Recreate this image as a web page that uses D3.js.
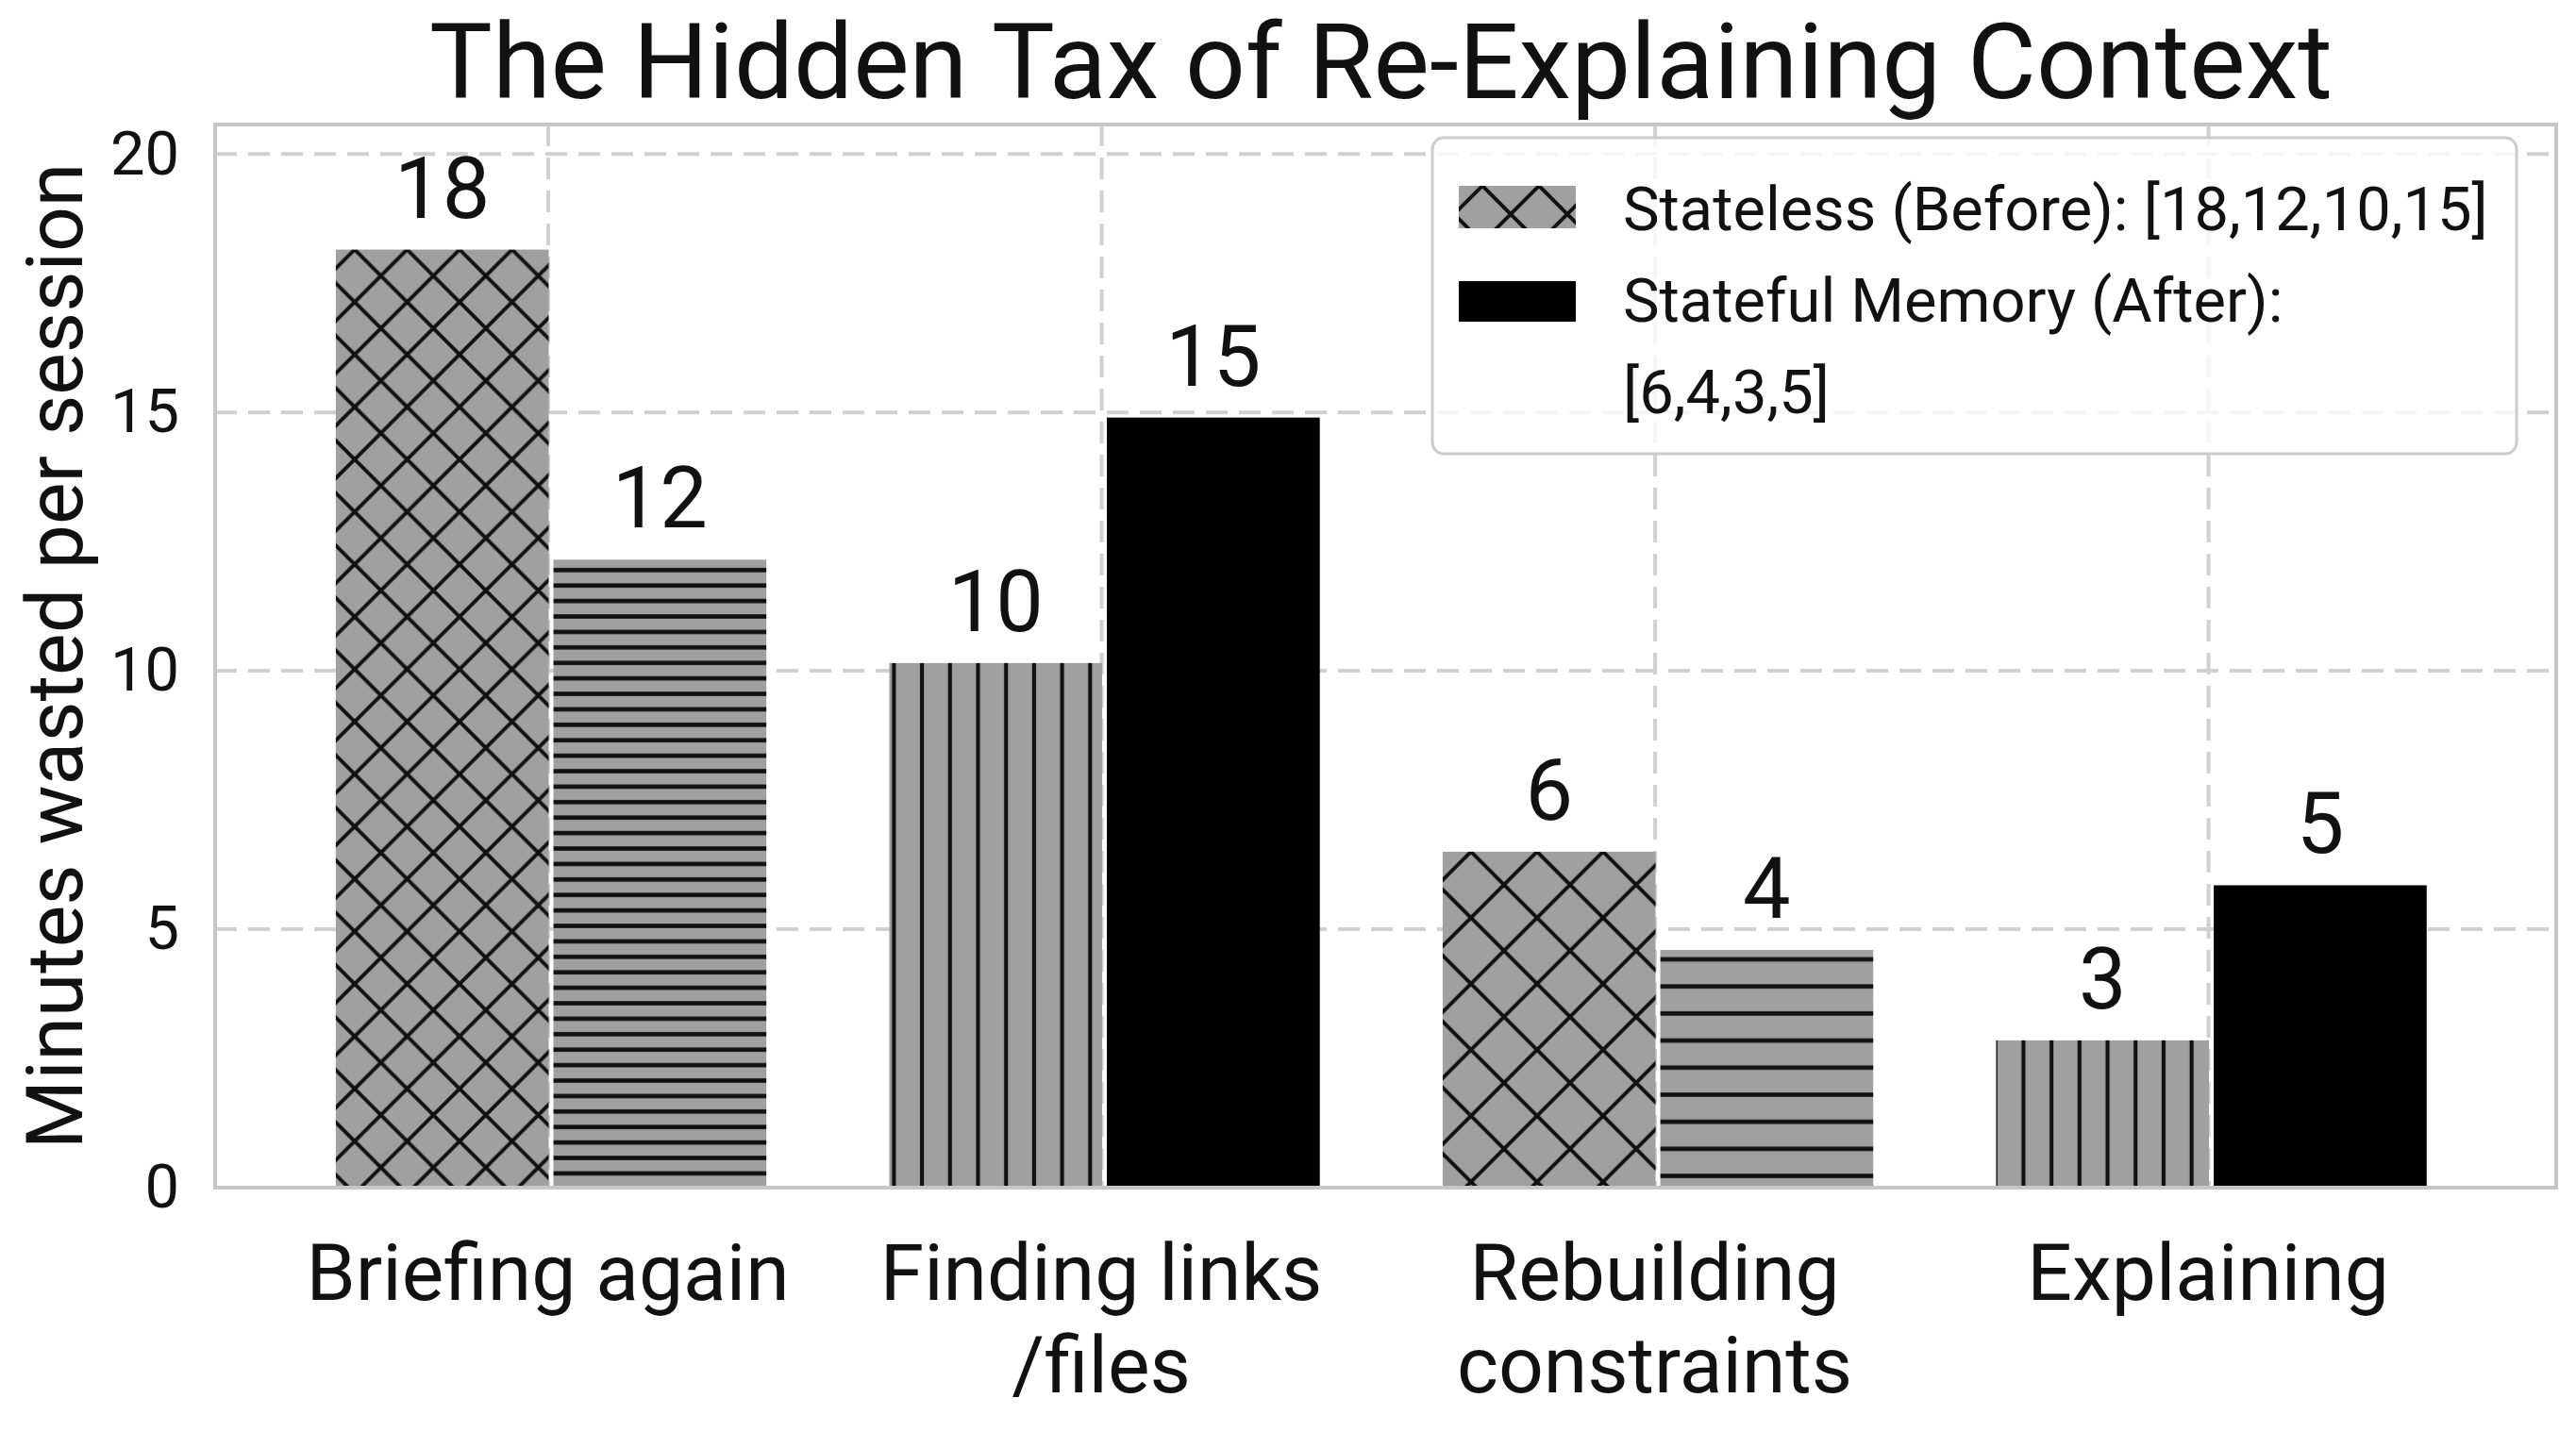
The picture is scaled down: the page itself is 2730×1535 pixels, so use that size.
<!DOCTYPE html>
<html>
<head>
<meta charset="utf-8">
<script src="https://cdn.jsdelivr.net/npm/d3@7"></script>
<style>
  body { margin: 0; background: #fff; }
  svg { display: block; }
  text { font-family: Roboto, "Noto Sans", sans-serif; fill: #111; }
</style>
</head>
<body>
<svg id="chart" width="2730" height="1535"></svg>
<script>
// chart data
const title = "The Hidden Tax of Re-Explaining Context"
const yTitle = "Minutes wasted per session"
const categories = ["Briefing again", "Finding links\n/files", "Rebuilding\nconstraints", "Explaining"]
// the bars are drawn in pairs, two per category, in this order
const barLabels = [18, 12, 10, 15, 6, 4, 3, 5]
// heights as drawn in the picture (slightly off the printed labels)
const barHeights = [18.15, 12.15, 10.15, 14.9, 6.5, 4.6, 2.85, 5.85]
const yTicks = [0, 5, 10, 15, 20]
const legendLines = [["Stateless (Before): [18,12,10,15]"], ["Stateful Memory (After):", "[6,4,3,5]"]]

// styling
const GRAY = "#a0a0a0", INK = "#111", GRID = "#d0d0d0", SPINE = "#c6c6c6"
const hatchKind = ["cross", "horiz", "vert", "solid"]
const hatchGap = [55.6, 16.4, 29.7, 0, 70, 28.7, 29.7, 0]
const hatchPhase = [20, 11, 5, 0, 30, 10, 29, 0]
const hatchWidth = { cross: 4, horiz: 4.6, vert: 4.2 }

const svg = d3.select("#chart")
const plot = { left: 228, right: 2709, top: 132, bottom: 1259 }

const xScale = d3.scaleLinear().domain([-0.607, 3.623]).range([plot.left, plot.right])
const yScale = d3.scaleLinear().domain([0, 20.57]).range([plot.bottom, plot.top])

// patterns
const defs = svg.append("defs")
const addPattern = (id, kind, gap, px, py, lw) => {
    const p = defs.append("pattern").attr("id", id).attr("patternUnits", "userSpaceOnUse")
    if (kind == "cross") {
        p.attr("x", px).attr("y", py).attr("width", gap).attr("height", gap)
        p.append("rect").attr("width", gap).attr("height", gap).attr("fill", GRAY)
        let d = ""
        for (const k of [-1, 0, 1]) {
            d += `M${-gap},${-gap + k * gap}L${2 * gap},${2 * gap + k * gap}`
            d += `M${-gap},${gap + (k + 1) * gap}L${2 * gap},${(k + 1) * gap - 2 * gap}`
        }
        p.append("path").attr("d", d).attr("stroke", INK).attr("stroke-width", lw).attr("fill", "none")
    } else if (kind == "horiz") {
        p.attr("x", 0).attr("y", py - gap / 2).attr("width", 20).attr("height", gap)
        p.append("rect").attr("width", 20).attr("height", gap).attr("fill", GRAY)
        p.append("rect").attr("y", gap / 2 - lw / 2).attr("width", 20).attr("height", lw).attr("fill", INK)
    } else if (kind == "vert") {
        p.attr("x", px - gap / 2).attr("y", 0).attr("width", gap).attr("height", 20)
        p.append("rect").attr("width", gap).attr("height", 20).attr("fill", GRAY)
        p.append("rect").attr("x", gap / 2 - lw / 2).attr("width", lw).attr("height", 20).attr("fill", INK)
    }
}

// bars
const barW = 0.389, halfGap = 2.5
const bars = barHeights.map((h, i) => {
    const cat = Math.floor(i / 2), side = i % 2
    const c = xScale(cat)
    const x0 = side ? c + halfGap : xScale(cat - barW)
    const x1 = side ? xScale(cat + barW) : c - halfGap
    return { i, cat, side, h, label: barLabels[i], kind: hatchKind[i % 4], x0, x1, y: yScale(h) }
})
bars.forEach(b => {
    if (b.kind != "solid") addPattern("p" + b.i, b.kind, hatchGap[b.i], b.x0 + hatchPhase[b.i], b.y + (b.kind == "cross" ? 0 : hatchPhase[b.i]), hatchWidth[b.kind])
})

// grid
const grid = svg.append("g").attr("stroke", GRID).attr("stroke-width", 4).attr("stroke-dasharray", "23,12")
grid.selectAll("line.h").data(yTicks.filter(t => t > 0)).enter().append("line")
    .attr("x1", plot.left).attr("x2", plot.right)
    .attr("y1", d => yScale(d)).attr("y2", d => yScale(d))
grid.selectAll("line.v").data(categories).enter().append("line")
    .attr("x1", (d, i) => xScale(i) - 3).attr("x2", (d, i) => xScale(i) - 3)
    .attr("y1", plot.top).attr("y2", plot.bottom)

svg.append("g").selectAll("rect").data(bars).enter().append("rect")
    .attr("x", d => d.x0)
    .attr("y", d => d.y)
    .attr("width", d => d.x1 - d.x0)
    .attr("height", d => yScale(0) - d.y)
    .attr("fill", d => d.kind == "solid" ? "#000" : `url(#p${d.i})`)

// spines
svg.append("rect")
    .attr("x", plot.left).attr("y", plot.top)
    .attr("width", plot.right - plot.left).attr("height", plot.bottom - plot.top)
    .attr("fill", "none").attr("stroke", SPINE).attr("stroke-width", 4)

// value labels
svg.append("g").selectAll("text").data(bars).enter().append("text")
    .attr("x", d => (d.x0 + d.x1) / 2)
    .attr("y", d => d.y - 34)
    .attr("text-anchor", "middle")
    .attr("font-size", 90)
    .text(d => d.label)

// y axis
const yAxis = d3.axisLeft(yScale).tickValues(yTicks).tickSize(0).tickPadding(38)
const yg = svg.append("g").attr("transform", `translate(${plot.left},0)`).call(yAxis)
yg.select(".domain").remove()
yg.selectAll("text").attr("font-size", 65).attr("font-family", "Roboto").attr("fill", "#111")

// x axis
const xAxis = d3.axisBottom(xScale).tickValues(d3.range(categories.length)).tickSize(0).tickFormat(i => categories[i])
const xg = svg.append("g").attr("transform", `translate(0,${plot.bottom})`).call(xAxis)
xg.select(".domain").remove()
xg.selectAll("text").each(function (d) {
    const t = d3.select(this).attr("dy", null).attr("y", null)
        .attr("font-size", 84).attr("font-family", "Roboto").attr("fill", "#111").text(null)
    categories[d].split("\n").forEach((line, k) => {
        t.append("tspan").attr("x", -4).attr("y", 119 + k * 98).text(line)
    })
})

// titles
svg.append("text")
    .attr("x", (plot.left + plot.right) / 2 - 5).attr("y", 104)
    .attr("text-anchor", "middle").attr("font-size", 112)
    .text(title)

svg.append("text")
    .attr("transform", `translate(87,${(plot.top + plot.bottom) / 2}) rotate(-90)`)
    .attr("text-anchor", "middle").attr("font-size", 84)
    .text(yTitle)

// legend
const lg = svg.append("g")
lg.append("rect")
    .attr("x", 1518).attr("y", 146).attr("width", 1149).attr("height", 335).attr("rx", 12)
    .attr("fill", "#fff").attr("fill-opacity", 0.8).attr("stroke", "#cccccc").attr("stroke-width", 3)
addPattern("legendCross", "cross", 60, 1571, 197, 4)
lg.append("rect").attr("x", 1546).attr("y", 197).attr("width", 124).attr("height", 45).attr("fill", "url(#legendCross)")
lg.append("rect").attr("x", 1546).attr("y", 298).attr("width", 124).attr("height", 43).attr("fill", "#000")
let row = 0
legendLines.forEach(lines => {
    lines.forEach(line => {
        lg.append("text").attr("x", 1720).attr("y", 244 + row * 97).attr("font-size", 65).text(line)
        row++
    })
})
</script>
</body>
</html>
